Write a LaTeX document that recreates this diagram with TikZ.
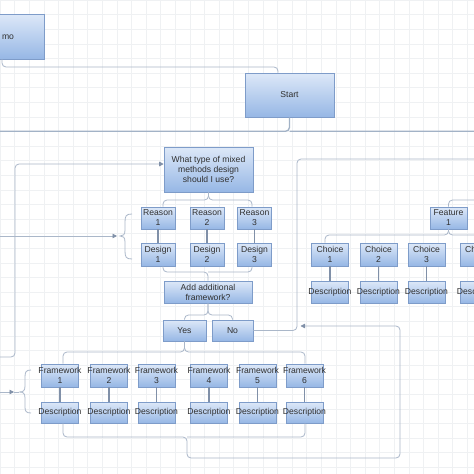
\documentclass[tikz,border=0pt]{standalone}
\usepackage{fontspec}
\setmainfont{Liberation Sans}
\usetikzlibrary{arrows.meta,calc}
\definecolor{boxtop}{HTML}{DDE8F8}
\definecolor{boxbot}{HTML}{96B7E5}
\definecolor{boxline}{HTML}{7E9CC9}
\definecolor{conncol}{HTML}{AAB7C9}
\definecolor{bigcol}{HTML}{A2B2C6}
\definecolor{linkcol}{HTML}{8090A8}
\definecolor{txtcol}{HTML}{303030}
\definecolor{gridcol}{HTML}{EFF1F3}
\newcommand\mybox[6]{%
  \node[box,minimum width=#4,minimum height=#5] (#1) at (#2,#3) {};
  \node[txt] (#1t) at (#1) {#6};}
\begin{document}
\begin{tikzpicture}[x=1pt,y=-1pt,
  box/.style={draw=boxline,line width=0.6pt,top color=boxtop,bottom color=boxbot,inner sep=0pt},
  txt/.style={text=txtcol,font=\fontsize{8.6}{10}\selectfont,align=center,inner sep=0pt},
  conn/.style={draw=conncol,line width=0.8pt,rounded corners=4pt},
  bigconn/.style={draw=bigcol,line width=1.3pt,rounded corners=4pt},
  link/.style={draw=linkcol,line width=1.2pt},
  arr/.style={-{Triangle[length=4.5pt,width=4.5pt,color=linkcol]}}]
\useasboundingbox (0,0) rectangle (474,474);
\clip (0,0) rectangle (474,474);
\fill[white] (0,0) rectangle (474,474);
\foreach \i in {0,...,33} {
  \draw[gridcol,line width=0.4pt] (\i*14.6,0) -- (\i*14.6,474);
  \draw[gridcol,line width=0.4pt] (0,\i*14.6) -- (474,\i*14.6);
}
% boxes
\node[box,minimum width=84,minimum height=45] (memo) at (2,36.5) {};
\node[txt] (memot) at (8,37) {mo};
\mybox{start}{289.5}{95}{89}{44}{Start}
\mybox{q}{208.5}{169.5}{89}{45}{What type of mixed\\methods design\\should I use?}
\mybox{r1}{158}{218}{34}{22}{Reason\\1}
\mybox{r2}{207}{218}{34}{22}{Reason\\2}
\mybox{r3}{254.5}{218}{34}{22}{Reason\\3}
\mybox{d1}{158}{254.5}{34}{23}{Design\\1}
\mybox{d2}{207}{254.5}{34}{23}{Design\\2}
\mybox{d3}{254.5}{254.5}{34}{23}{Design\\3}
\mybox{add}{208}{292}{88}{22}{Add additional\\framework?}
\mybox{yes}{184.5}{330.5}{43}{21}{Yes}
\mybox{no}{232.5}{330.5}{41}{21}{No}
\mybox{f1}{60}{375.5}{37}{23}{Framework\\1}
\mybox{f2}{109}{375.5}{37}{23}{Framework\\2}
\mybox{f3}{156.5}{375.5}{37}{23}{Framework\\3}
\mybox{f4}{209}{375.5}{37}{23}{Framework\\4}
\mybox{f5}{257.5}{375.5}{37}{23}{Framework\\5}
\mybox{f6}{304.5}{375.5}{37}{23}{Framework\\6}
\mybox{g1}{60}{412.5}{37}{21}{Description}
\mybox{g2}{109}{412.5}{37}{21}{Description}
\mybox{g3}{156.5}{412.5}{37}{21}{Description}
\mybox{g4}{209}{412.5}{37}{21}{Description}
\mybox{g5}{257.5}{412.5}{37}{21}{Description}
\mybox{g6}{304.5}{412.5}{37}{21}{Description}
\mybox{feat}{448.5}{218}{37}{22}{Feature\\1}
\mybox{c1}{330}{254.5}{37}{23}{Choice\\1}
\mybox{c2}{378.5}{254.5}{37}{23}{Choice\\2}
\mybox{c3}{426.5}{254.5}{37}{23}{Choice\\3}
\mybox{c4}{478.5}{254.5}{37}{23}{Choice\\4}
\mybox{e1}{330}{292}{37}{22}{Description}
\mybox{e2}{378.5}{292}{37}{22}{Description}
\mybox{e3}{426.5}{292}{37}{22}{Description}
\mybox{e4}{478.5}{292}{37}{22}{Description}
% connectors
\draw[conn] (memo.south) |- (278,67) -- (278,0 |- start.north);
\draw[bigconn] (-10,145) |- ($(start.south)+(0,14)$) -- (start.south);
\draw[bigconn] (484,145) |- ($(start.south)+(0,14)$);
\draw[conn,arr] (-10,357) -| (15,164) -- (q.west |- 0,164);
\draw[conn] (q.south) -- (208.5,200) -| (163,0 |- r1.north);
\draw[conn] (q.south) -- (208.5,200) -| (252,0 |- r3.north);
\foreach \a/\b in {r1/d1,r2/d2,r3/d3,f1/g1,f2/g2,f3/g3,f4/g4,f5/g5,f6/g6,c1/e1,c2/e2,c3/e3,c4/e4}
  \draw[link] (\a.south) -- (\b.north);
\draw[conn] (163,0 |- d1.south) |- (208,272) -- (add.north);
\draw[conn] (252,0 |- d3.south) |- (208,272);
\draw[conn] (add.south) -- (208,315) -| (yes.north);
\draw[conn] (add.south) -- (208,315) -| (no.north);
\draw[conn] (no.east) -- (297,0 |- no.east) |- (480,159);
\draw[conn] (yes.south) -- (184.5,352) -| (63,0 |- f1.north);
\draw[conn] (yes.south) -- (184.5,352) -| (305,0 |- f6.north);
\draw[conn,arr] (63,0 |- g1.south) |- (187,437) |- (400,458) |- (300.5,326);
\draw[conn] (305,0 |- g6.south) |- (187,437);
% left braces
\draw[conn,arr] (-5,236) -- (117,236);
\draw[conn,rounded corners=0pt] (132,214) .. controls (126,214) and (125,216) .. (125,222) -- (125,230)
  .. controls (125,235) and (123,236) .. (120,236) .. controls (123,236) and (125,237) .. (125,242)
  -- (125,251) .. controls (125,257) and (126,259) .. (132,259);
\draw[conn,arr] (-5,392) -- (14,392);
\draw[conn] (14,392) -- (19,392);
\draw[conn,rounded corners=0pt] (31,370) .. controls (26,370) and (25,372) .. (25,377) -- (25,386)
  .. controls (25,391) and (23,392) .. (19,392) .. controls (23,392) and (25,393) .. (25,398)
  -- (25,407) .. controls (25,411) and (26,413) .. (31,413);
% feature
\draw[conn] (feat.north) |- (480,200);
\draw[conn] (feat.south) -- (448.5,235) -| (325,0 |- c1.north);
\draw[conn] (feat.south) -- (448.5,235) -- (480,235);
\end{tikzpicture}
\end{document}
